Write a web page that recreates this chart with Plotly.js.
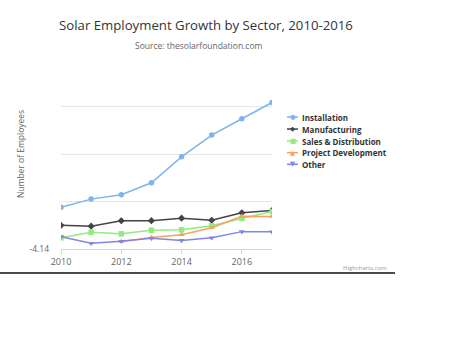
<!DOCTYPE html>
<html>
<head>
<meta charset="utf-8">
<script src="https://cdn.plot.ly/plotly-3.0.1.min.js"></script>
<style>
html,body{margin:0;padding:0;background:#fff;}
#chart{width:474px;height:357px;}
#rule{position:absolute;left:0;top:272px;width:395px;height:2px;background:#4a4a4a;}
</style>
</head>
<body>
<div id="chart"></div>
<div id="rule"></div>
<script>
var years = [2010, 2011, 2012, 2013, 2014, 2015, 2016, 2017];
var installation = [43934, 52503, 57177, 69658, 97031, 119931, 137133, 154175];
var manufacturing = [24916, 24064, 29742, 29851, 32490, 30282, 38121, 40434];
var salesDistribution = [11744, 17722, 16005, 19771, 20185, 24377, 32147, 39387];
var projectDevelopment = [null, null, 7988, 12169, 15112, 22452, 34400, 34227];
var other = [12908, 5948, 8105, 11248, 8989, 11816, 18274, 18111];
var seriesNames = ['Installation', 'Manufacturing', 'Sales &amp; Distribution', 'Project Development', 'Other'];
var yTickVals = [0, 50000, 100000, 150000, 200000];
var yTickText = ['-4.14', '', '', '', ''];
var xTickVals = [2010, 2012, 2014, 2016];

var FONT = '"Open Sans", "Noto Sans", sans-serif';
var colors = ['#7cb5ec', '#434348', '#90ed7d', '#f7a35c', '#8085e9'];
var symbols = ['circle', 'diamond', 'square', 'triangle-up', 'triangle-down'];
var glyphs = ['●', '◆', '■', '▲', '▼'];
var values = [installation, manufacturing, salesDistribution, projectDevelopment, other];

var traces = values.map(function (v, i) {
  return {
    x: years, y: v, name: seriesNames[i], type: 'scatter', mode: 'lines+markers',
    line: {color: colors[i], width: 1.5},
    marker: {color: colors[i], symbol: symbols[i], size: 5.5},
    connectgaps: false, showlegend: false
  };
});

// plot area in pixels: x 61..272, y 59..249
function px(x) { return (x - 61) / 211; }
function py(y) { return (249 - y) / 190; }

var annotations = [
  {text: 'Source: thesolarfoundation.com', xref: 'paper', yref: 'paper', x: px(199), y: py(45),
   xanchor: 'center', yanchor: 'middle', showarrow: false, font: {family: FONT, size: 8.5, color: '#666'}},
  {text: 'Highcharts.com', xref: 'paper', yref: 'paper', x: px(389), y: py(268),
   xanchor: 'right', yanchor: 'middle', showarrow: false, font: {family: FONT, size: 6, color: '#999'}}
];
var shapes = [];
var rowY = [117, 129, 141, 152.7, 164.3];
seriesNames.forEach(function (name, i) {
  annotations.push({text: name, xref: 'paper', yref: 'paper', x: px(300), y: py(rowY[i]),
    xanchor: 'left', yanchor: 'middle', showarrow: false,
    font: {family: FONT, size: 8, color: '#333', weight: 'bold'}});
  shapes.push({type: 'line', xref: 'paper', yref: 'paper', x0: px(287), x1: px(298), y0: py(rowY[i]), y1: py(rowY[i]),
    line: {color: colors[i], width: 1.5}});
  annotations.push({text: glyphs[i], xref: 'paper', yref: 'paper', x: px(292.5), y: py(rowY[i]),
    xanchor: 'center', yanchor: 'middle', showarrow: false,
    font: {family: 'DejaVu Sans', size: 6.5, color: colors[i]}});
});

var layout = {
  width: 474, height: 357,
  margin: {l: 61, r: 202, t: 59, b: 108, pad: 0},
  paper_bgcolor: '#fff', plot_bgcolor: '#fff',
  font: {family: FONT, color: '#666', size: 9},
  title: {text: 'Solar Employment Growth by Sector, 2010-2016', font: {family: FONT, size: 13.2, color: '#333'},
          x: 206 / 474, xanchor: 'center', xref: 'container', y: 1 - 25 / 357, yanchor: 'middle', yref: 'container'},
  annotations: annotations,
  shapes: shapes,
  xaxis: {
    range: [2010, 2017], tickvals: xTickVals, ticktext: xTickVals.map(String),
    showgrid: false, zeroline: false, showline: true, linecolor: '#ccd6eb', linewidth: 1,
    ticks: 'outside', ticklen: 4, tickcolor: '#ccd6eb', tickfont: {family: FONT, size: 9, color: '#666'}
  },
  yaxis: {
    range: [0, 200000], tickvals: yTickVals, ticktext: yTickText,
    showgrid: true, gridcolor: '#e6e6e6', gridwidth: 1, zeroline: false, showline: false,
    ticks: '', ticklabelstandoff: 11, tickfont: {family: FONT, size: 8.5, color: '#666'},
    title: {text: 'Number of Employees', font: {family: FONT, size: 8.5, color: '#666'}, standoff: 3}
  },
  showlegend: false
};

Plotly.newPlot('chart', traces, layout, {displayModeBar: false, staticPlot: true});
</script>
</body>
</html>
